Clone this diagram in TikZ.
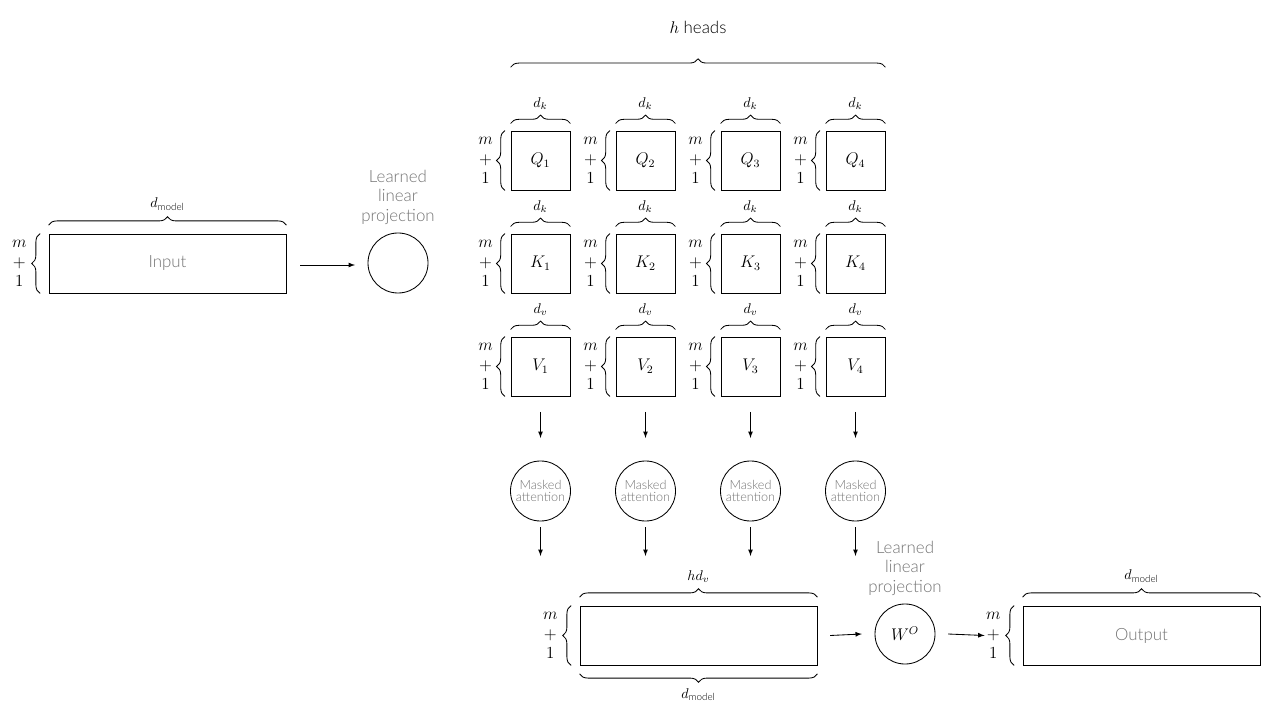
\documentclass[tikz,border=0pt]{standalone}
\usepackage{amsmath}
\usepackage{fontspec}
\setmainfont{Lato Light}
\usetikzlibrary{positioning,decorations.pathreplacing,calc}

\begin{document}
\begin{tikzpicture}[x=0.025cm,y=-0.025cm,
	mat/.style={draw,semithick,minimum width=1.475cm,minimum height=1.475cm,inner sep=0pt,font=\large},
	wide/.style={draw,semithick,minimum width=5.925cm,minimum height=1.475cm,inner sep=0pt,font=\large\color{black!55}},
	op/.style={draw,semithick,circle,minimum size=1.5cm,inner sep=0pt},
	brc/.style={decorate,decoration={brace,amplitude=6pt},semithick},
	arr/.style={->,>=latex,semithick},
	lbl/.style={font=\large,color=black!55,align=center}]
			\useasboundingbox (0,0) rectangle (1280,720);
			% input side
			\node[wide] (in) at (167.5,263.5) {Input};
			\draw[brc] ([yshift=6pt]in.north west) -- ([yshift=6pt]in.north east) node[midway,above=7pt] {$d_{\text{model}}$};
			\draw[brc] ([xshift=-6pt]in.south west) -- ([xshift=-6pt]in.north west) node[midway,left=6pt,align=center,font=\large] {$m$\\$+$\\$1$};
			\node[op] (proj) at (398,263) {};
			\node[lbl,above=2pt of proj] {Learned\\linear\\projection};
			\coordinate (inA) at (300,265);
			\coordinate (inB) at (355,265);
			\draw[arr] (inA) -- (inB);
			% heads
			\foreach \i/\x in {1/540.5,2/645.5,3/750.5,4/855.5} {
				\node[mat] (q\i) at (\x,160.5) {$Q_{\i}$};
				\node[mat] (k\i) at (\x,263.5) {$K_{\i}$};
				\node[mat] (v\i) at (\x,366.5) {$V_{\i}$};
				\foreach \n/\d in {q/k,k/k,v/v} {
					\draw[brc] ([yshift=5pt]\n\i.north west) -- ([yshift=5pt]\n\i.north east) node[midway,above=6pt] {$d_{\d}$};
					\draw[brc] ([xshift=-4pt]\n\i.south west) -- ([xshift=-4pt]\n\i.north west) node[midway,left=5pt,align=center,font=\large] {$m$\\$+$\\$1$};
				}
				\node[op,font=\small\color{black!55},align=center] (att\i) at (\x,491) {Masked\\[-3pt]attention};
				\coordinate (a\i) at (\x,412);
				\coordinate (b\i) at (\x,438);
				\coordinate (c\i) at (\x,527);
				\coordinate (d\i) at (\x,556);
				\draw[arr] (a\i) -- (b\i);
				\draw[arr] (c\i) -- (d\i);
			}
			\draw[brc] ([yshift=45pt]q1.north west) -- ([yshift=45pt]q4.north east) node[midway,above=20pt,font=\large] {$h$ heads};
			% concatenation
			\node[wide] (cat) at (698.5,635.5) {};
			\draw[brc] ([yshift=6pt]cat.north west) -- ([yshift=6pt]cat.north east) node[midway,above=7pt] {$hd_v$};
			\draw[brc] ([yshift=-6pt]cat.south east) -- ([yshift=-6pt]cat.south west) node[midway,below=7pt] {$d_{\text{model}}$};
			\draw[brc] ([xshift=-6pt]cat.south west) -- ([xshift=-6pt]cat.north west) node[midway,left=6pt,align=center,font=\large] {$m$\\$+$\\$1$};
			\node[op,font=\large] (wo) at (905,634) {$W^O$};
			\node[lbl,above=2pt of wo] {Learned\\linear\\projection};
			\node[wide] (out) at (1141.5,635.5) {Output};
			\draw[brc] ([yshift=6pt]out.north west) -- ([yshift=6pt]out.north east) node[midway,above=7pt] {$d_{\text{model}}$};
			\draw[brc] ([xshift=-6pt]out.south west) -- ([xshift=-6pt]out.north west) node[midway,left=6pt,align=center,font=\large] {$m$\\$+$\\$1$};
			\draw[arr] ([xshift=9pt]cat.east) -- ([xshift=-9pt]wo.west);
			\draw[arr] ([xshift=9pt]wo.east) -- ([xshift=-27pt]out.west);
			\end{tikzpicture}
\end{document}
